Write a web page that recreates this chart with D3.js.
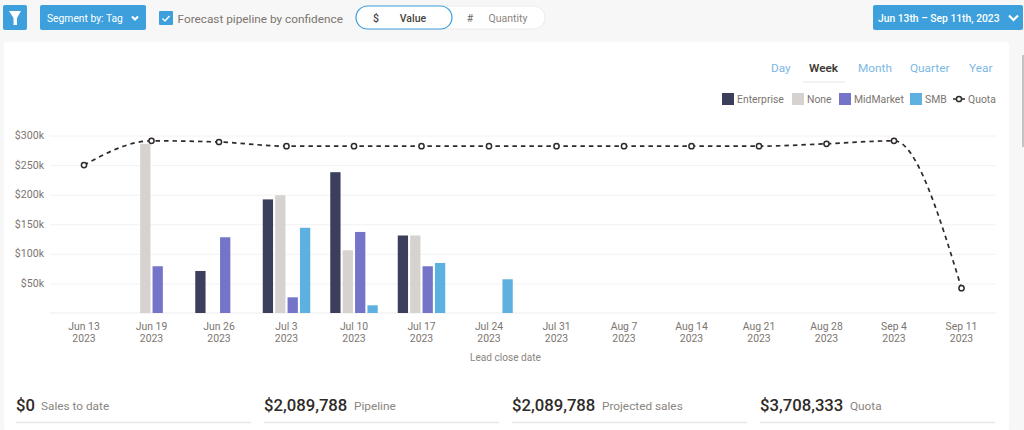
<!DOCTYPE html>
<html><head><meta charset="utf-8">
<script src="https://cdn.jsdelivr.net/npm/d3@7"></script>
<style>
html,body{margin:0;padding:0;background:#f7f7f7;overflow:hidden}
text{font-family:Roboto,"Noto Sans",sans-serif}
</style></head><body><div id="c"></div>
<script>
const weeks=["Jun 13","Jun 19","Jun 26","Jul 3","Jul 10","Jul 17","Jul 24","Jul 31","Aug 7","Aug 14","Aug 21","Aug 28","Sep 4","Sep 11"];
const segments=["Enterprise","None","MidMarket","SMB"];
const colors=["#3b3f5c","#d5d2cf","#7474c8","#5db1e0"];
const enterprise=[0,0,71000,192000,238000,131000,0,0,0,0,0,0,0,0];
const none=[0,286000,0,199000,106000,131000,0,0,0,0,0,0,0,0];
const midMarket=[0,79000,128000,26500,137000,79000,0,0,0,0,0,0,0,0];
const smb=[0,0,0,144000,13000,84500,57000,0,0,0,0,0,0,0];
const quota=[250000,291000,289000,282000,282000,282000,282000,282000,282000,282000,282000,286000,291000,42000];
const yTicks=[50000,100000,150000,200000,250000,300000];
const periods=["Day","Week","Month","Quarter","Year"];
const kpis=[["$0","Sales to date"],["$2,089,788","Pipeline"],["$2,089,788","Projected sales"],["$3,708,333","Quota"]];
const series=[enterprise,none,midMarket,smb];

const svg=d3.select("#c").append("svg").attr("width",1024).attr("height",430).style("display","block");
const x=d3.scaleBand().domain(weeks).range([50.25,995.25]);
const y=d3.scaleLinear().domain([0,300000]).range([313,135.5]);
const inner=d3.scaleBand().domain(segments).range([-23.75,23.75]).paddingInner(0.17);
const cx=w=>x(w)+x.bandwidth()/2;
const txt="#7c7570", ink="#2e2a28", blue="#3d9fdb";

// card and scrollbar
svg.append("rect").attr("x",4).attr("y",42).attr("width",1005).attr("height",388).attr("fill","#fff").attr("rx",2);
svg.append("rect").attr("x",1022).attr("y",55).attr("width",2).attr("height",92).attr("fill","#c4c4c4");

// toolbar
svg.append("rect").attr("x",3).attr("y",5).attr("width",24).attr("height",25).attr("rx",2).attr("fill",blue);
svg.append("path").attr("d","M9 11H21L17 18V25H13.500V18Z").attr("fill","#fff");
svg.append("rect").attr("x",40).attr("y",5).attr("width",106).attr("height",25).attr("rx",2).attr("fill",blue);
svg.append("text").attr("x",47).attr("y",22).attr("font-size",10.3).attr("fill","#fff").text("Segment by: Tag");
svg.append("path").attr("d","M132 16.500L135 19.500L138 16.500").attr("fill","none").attr("stroke","#fff").attr("stroke-width",2);
svg.append("rect").attr("x",159).attr("y",11).attr("width",14).attr("height",14).attr("rx",1).attr("fill",blue);
svg.append("path").attr("d","M162.500 18.500L165 21L169.500 16").attr("fill","none").attr("stroke","#fff").attr("stroke-width",1.4);
svg.append("text").attr("x",177.500).attr("y",22.500).attr("font-size",11.8).attr("fill",txt).text("Forecast pipeline by confidence");
svg.append("rect").attr("x",356).attr("y",6).attr("width",189).attr("height",23).attr("rx",11.500).attr("fill","#fff").attr("stroke","#ececec");
svg.append("rect").attr("x",356).attr("y",6).attr("width",96).attr("height",23).attr("rx",11.500).attr("fill","#fff").attr("stroke",blue).attr("stroke-width",1.2);
[["$",376,"#4a4540",500],["Value",413,"#4a4540",500],["#",470,"#6f6a66",400],["Quantity",508,"#8a8580",400]].forEach(d=>{
 svg.append("text").attr("x",d[1]).attr("y",22).attr("text-anchor","middle").attr("font-size",10.5).attr("font-weight",d[3]).attr("fill",d[2]).text(d[0]);
});
svg.append("rect").attr("x",873).attr("y",5).attr("width",150).attr("height",25).attr("rx",2).attr("fill",blue);
svg.append("text").attr("x",878).attr("y",22).attr("font-size",10.3).attr("font-weight",500).attr("fill","#fff").text("Jun 13th – Sep 11th, 2023");
svg.append("path").attr("d","M1009 15.500L1013.500 20L1018 15.500").attr("fill","none").attr("stroke","#fff").attr("stroke-width",2.2);

// period tabs
const tabX=[771,809,858,910,969];
periods.forEach((p,i)=>svg.append("text").attr("x",tabX[i]).attr("y",72).attr("font-size",11.8).attr("font-weight",p==="Week"?600:400).attr("fill",p==="Week"?"#3f3a36":"#7cb8e4").text(p));
svg.append("line").attr("x1",803).attr("x2",845).attr("y1",82).attr("y2",82).attr("stroke","#e8e8e8");

// legend
const legX=[722,792,839,910];
segments.forEach((s,i)=>{
 svg.append("rect").attr("x",legX[i]).attr("y",93).attr("width",12).attr("height",12).attr("fill",colors[i]);
 svg.append("text").attr("x",legX[i]+15).attr("y",103).attr("font-size",10.4).attr("fill",txt).text(s);
});
svg.append("line").attr("x1",953).attr("x2",965).attr("y1",99).attr("y2",99).attr("stroke",ink).attr("stroke-width",1.5);
svg.append("circle").attr("cx",959).attr("cy",99).attr("r",2.6).attr("fill","#fff").attr("stroke",ink).attr("stroke-width",1.5);
svg.append("text").attr("x",968).attr("y",103).attr("font-size",10.4).attr("fill",txt).text("Quota");

// gridlines and axes
const gy=svg.append("g").attr("transform","translate(50,0)")
 .call(d3.axisLeft(y).tickValues(yTicks).tickSize(-946).tickPadding(6).tickFormat(d=>"$"+d/1000+"k"));
gy.select(".domain").remove();
gy.selectAll("line").attr("stroke","#f2f2f2").attr("stroke-width",1);
gy.selectAll("text").attr("font-size",10.6).attr("fill",txt).attr("dy","0.28em").style("font-family","Roboto,sans-serif");

const gx=svg.append("g").attr("transform","translate(0,313)").call(d3.axisBottom(x).tickSize(0).tickPadding(0).tickFormat(()=>""));
gx.select(".domain").attr("stroke","#ededed").attr("d","M50,0H996");
gx.selectAll(".tick text").remove();
gx.selectAll(".tick").each(function(w){
 const t=d3.select(this).append("text").attr("text-anchor","middle").attr("font-size",10.4).attr("fill",txt);
 t.append("tspan").attr("x",0).attr("y",17).text(w);
 t.append("tspan").attr("x",0).attr("y",29).text("2023");
});
svg.append("text").attr("x",505.5).attr("y",361).attr("text-anchor","middle").attr("font-size",10.1).attr("fill","#8a8580").text("Lead close date");

// bars
segments.forEach((s,i)=>{
 svg.append("g").selectAll("rect").data(weeks.map((w,j)=>({w,v:series[i][j]})).filter(d=>d.v>0)).join("rect")
  .attr("x",d=>cx(d.w)+inner(s)).attr("width",inner.bandwidth())
  .attr("y",d=>y(d.v)).attr("height",d=>y(0)-y(d.v)).attr("fill",colors[i]);
});

// quota
const line=d3.line().x((d,i)=>cx(weeks[i])).y(d=>y(d)).curve(d3.curveMonotoneX);
svg.append("path").attr("d",line(quota)).attr("fill","none").attr("stroke",ink).attr("stroke-width",1.7).attr("stroke-dasharray","4.5 4");
svg.append("g").selectAll("circle").data(quota).join("circle")
 .attr("cx",(d,i)=>cx(weeks[i])).attr("cy",d=>y(d)).attr("r",2.6).attr("fill","#fff").attr("stroke",ink).attr("stroke-width",1.5);

// KPI row
const kx=[16,264,512,760];
const lx=[41,354,602,850];
kpis.forEach((k,i)=>{
 svg.append("text").attr("x",kx[i]).attr("y",411).attr("font-size",16.7).attr("font-weight",500).attr("fill",ink).text(k[0]);
 svg.append("text").attr("x",lx[i]).attr("y",410).attr("font-size",11.8).attr("fill","#8a8580").text(k[1]);
 svg.append("line").attr("x1",kx[i]).attr("x2",kx[i]+235).attr("y1",422.500).attr("y2",422.500).attr("stroke","#e8e8e8").attr("stroke-width",1.5);
});
</script></body></html>
